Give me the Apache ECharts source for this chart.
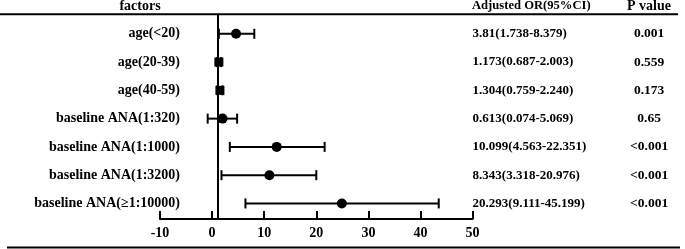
<!DOCTYPE html>
<html><head><meta charset="utf-8">
<script src="https://cdn.jsdelivr.net/npm/echarts@6/dist/echarts.min.js"></script>
<style>html,body{margin:0;padding:0;background:#fff}#c{width:685px;height:249px}</style>
</head><body><div id="c"></div>
<script>
const factors = ['age(<20)','age(20-39)','age(40-59)','baseline ANA(1:320)','baseline ANA(1:1000)','baseline ANA(1:3200)','baseline ANA(\u22651:10000)'];
const orText = ['3.81(1.738-8.379)','1.173(0.687-2.003)','1.304(0.759-2.240)','0.613(0.074-5.069)','10.099(4.563-22.351)','8.343(3.318-20.976)','20.293(9.111-45.199)'];
const pText = ['0.001','0.559','0.173','0.65','<0.001','<0.001','<0.001'];
const pointVal = [4.6, 1.3, 1.5, 2.0, 12.4, 11.0, 24.9];
const lowerVal = [1.3, 0.9, 1.0, -0.85, 3.4, 1.8, 6.4];
const upperVal = [8.1, 1.7, 2.0, 4.8, 21.6, 20.0, 43.5];
const markerShape = ['circle','rect','rect','circle','circle','circle','circle'];
const xTicks = {min: -10, max: 50, interval: 10};
const refValue = 1;

const FONT = '"Liberation Serif", "Times New Roman", serif';
const rows = factors.map((_, i) => i);
const chart = echarts.init(document.getElementById('c'), null, {renderer: 'canvas'});
const yBase = {type: 'value', inverse: true, min: -0.7, max: 6.55, splitLine: {show: false},
  axisLine: {show: false}, axisTick: {show: false}};
const lbl = (s) => ({fontFamily: FONT, fontWeight: 'bold', fontSize: s, color: '#000'});
chart.setOption({
  animation: false,
  grid: {left: 160, right: 212.4, top: 14, bottom: 30},
  xAxis: {type: 'value', min: xTicks.min, max: xTicks.max, interval: xTicks.interval,
    splitLine: {show: false},
    axisLine: {onZero: false, lineStyle: {color: '#000', width: 2}},
    axisTick: {inside: true, length: 8, lineStyle: {color: '#000', width: 2}},
    axisLabel: Object.assign({margin: 7}, lbl(14))},
  yAxis: [
    Object.assign({}, yBase, {position: 'left', offset: -25,
      axisLabel: Object.assign({customValues: rows, margin: 5, formatter: v => factors[v]}, lbl(14))}),
    Object.assign({}, yBase, {position: 'right', offset: 0,
      axisLabel: Object.assign({customValues: rows, margin: 0, align: 'left', formatter: v => orText[v]}, lbl(13))}),
    Object.assign({}, yBase, {position: 'right', offset: 176.5,
      axisLabel: Object.assign({customValues: rows, margin: 0, align: 'center', formatter: v => pText[v]}, lbl(13.5))})
  ],
  graphic: [
    {type: 'line', shape: {x1: 0, y1: 14.3, x2: 678, y2: 14.3}, style: {stroke: '#000', lineWidth: 2}},
    {type: 'line', shape: {x1: 7, y1: 247.5, x2: 680, y2: 247.5}, style: {stroke: '#000', lineWidth: 2}},
    {type: 'text', x: 140, y: 6, style: {text: 'factors', align: 'center', verticalAlign: 'middle', fill: '#000', font: 'bold 14px ' + FONT}},
    {type: 'text', x: 472, y: 6, style: {text: 'Adjusted OR(95%CI)', align: 'left', verticalAlign: 'middle', fill: '#000', font: 'bold 12.6px ' + FONT}},
    {type: 'text', x: 649, y: 6, style: {text: 'P value', align: 'center', verticalAlign: 'middle', fill: '#000', font: 'bold 14px ' + FONT}}
  ],
  series: [
    {type: 'custom', yAxisIndex: 0,
      data: rows.map(i => [i, lowerVal[i], upperVal[i]]),
      encode: {x: [1, 2], y: 0},
      renderItem: (params, api) => {
        const y = api.value(0);
        const a = api.coord([api.value(1), y]);
        const b = api.coord([api.value(2), y]);
        const st = {stroke: '#000', lineWidth: 2};
        return {type: 'group', children: [
          {type: 'line', shape: {x1: a[0], y1: a[1], x2: b[0], y2: b[1]}, style: st},
          {type: 'line', shape: {x1: a[0], y1: a[1] - 5, x2: a[0], y2: a[1] + 5}, style: st},
          {type: 'line', shape: {x1: b[0], y1: b[1] - 5, x2: b[0], y2: b[1] + 5}, style: st}
        ]};
      }},
    {type: 'scatter', yAxisIndex: 0,
      data: rows.map(i => ({value: [pointVal[i], i], symbol: markerShape[i], symbolSize: markerShape[i] === 'rect' ? 9 : 10})),
      itemStyle: {color: '#000', opacity: 1},
      markLine: {silent: true, symbol: 'none', label: {show: false},
        lineStyle: {color: '#000', width: 2, type: 'solid'},
        data: [{xAxis: refValue}]}}
  ]
});
</script></body></html>
